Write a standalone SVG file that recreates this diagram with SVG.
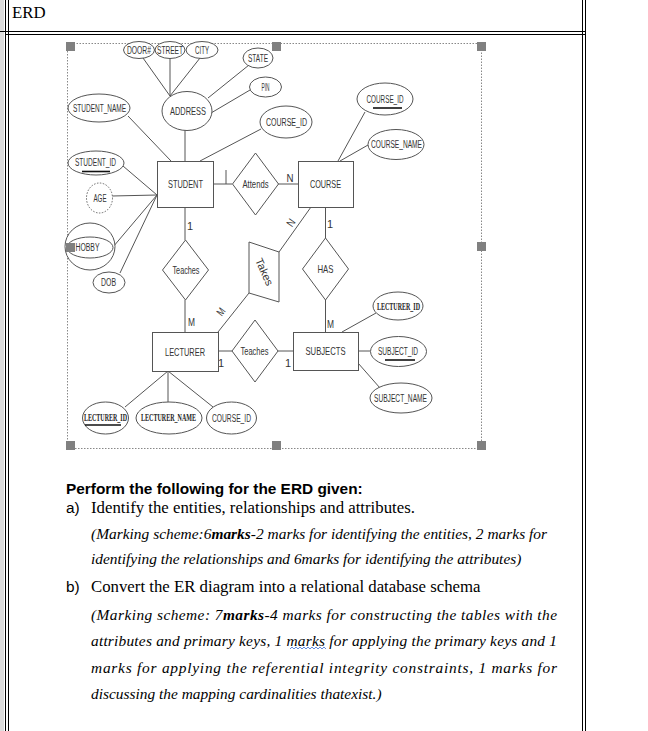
<svg xmlns="http://www.w3.org/2000/svg" width="648" height="731" viewBox="0 0 648 731">
<defs>
<style>
.bd{stroke:#000;stroke-width:1;fill:none}
.sh{fill:#fff;stroke:#555;stroke-width:1}
.ln{stroke:#555;stroke-width:1;fill:none}
.t{font-family:"Liberation Sans",Arial,sans-serif;font-size:10px;fill:#333;text-anchor:middle}
.e{font-family:"Liberation Sans",Arial,sans-serif;font-size:11px;fill:#333;text-anchor:middle}
.tb{font-family:"Liberation Serif","Times New Roman",serif;font-size:10px;font-weight:bold;fill:#222;text-anchor:middle}
.c{font-family:"Liberation Sans",Arial,sans-serif;font-size:11px;fill:#333;text-anchor:middle}
.ul{stroke:#111;stroke-width:1.6}
.hd{fill:#808080}
.doc{font-family:"Liberation Serif","Times New Roman",serif;fill:#000}
.it{font-family:"Liberation Serif","Times New Roman",serif;font-style:italic;font-size:15.4px;fill:#000}
.sans{font-family:"Liberation Sans",Arial,sans-serif;fill:#000}
</style>
</defs>
<rect width="648" height="731" fill="#fff"/>
<g id="table">
<rect x="0" y="0" width="4" height="731" fill="#dcdcdc"/>
<line class="bd" x1="5.5" y1="0" x2="5.5" y2="731"/>
<line class="bd" x1="8.5" y1="0" x2="8.5" y2="731"/>
<line class="bd" x1="582.5" y1="0" x2="582.5" y2="731"/>
<line class="bd" x1="585.5" y1="0" x2="585.5" y2="731"/>
<line class="bd" x1="0" y1="31.5" x2="586" y2="31.5"/>
<line class="bd" x1="5" y1="34.5" x2="586" y2="34.5"/>
<text class="doc" x="12" y="18" font-size="16.8">ERD</text>
</g>
<g id="frame">
<rect x="67.5" y="43.5" width="414" height="405" fill="none" stroke="#888" stroke-dasharray="1.5 1.5"/>
</g>
<g id="connectors">
<line class="ln" x1="143" y1="58" x2="170" y2="96"/>
<line class="ln" x1="170" y1="58.5" x2="170" y2="96"/>
<line class="ln" x1="200" y1="58" x2="170" y2="96"/>
<line class="ln" x1="249" y1="65" x2="208" y2="98"/>
<line class="ln" x1="250" y1="90" x2="211" y2="113"/>
<line class="ln" x1="185" y1="130" x2="185" y2="161"/>
<line class="ln" x1="128" y1="116" x2="171" y2="161"/>
<line class="ln" x1="261" y1="129" x2="200" y2="161"/>
<line class="ln" x1="123" y1="166" x2="157" y2="195"/>
<line class="ln" x1="112" y1="196" x2="157" y2="195"/>
<line class="ln" x1="113" y1="247" x2="157" y2="195"/>
<line class="ln" x1="120" y1="273" x2="157" y2="195"/>
<line class="ln" x1="213" y1="184" x2="232" y2="184"/>
<line class="ln" x1="226" y1="170" x2="226" y2="184"/>
<line class="ln" x1="278" y1="184" x2="298" y2="184"/>
<line class="ln" x1="365" y1="112" x2="338" y2="161"/>
<line class="ln" x1="368" y1="145" x2="340" y2="161"/>
<line class="ln" x1="185" y1="207" x2="185" y2="240"/>
<line class="ln" x1="185" y1="300" x2="185" y2="332"/>
<line class="ln" x1="311" y1="207" x2="279" y2="252"/>
<line class="ln" x1="249" y1="293" x2="218" y2="332"/>
<line class="ln" x1="325.5" y1="207" x2="325.5" y2="238"/>
<line class="ln" x1="325.5" y1="300" x2="325.5" y2="332"/>
<line class="ln" x1="218" y1="351" x2="232" y2="351"/>
<line class="ln" x1="278" y1="351" x2="293" y2="351"/>
<line class="ln" x1="376" y1="313" x2="342" y2="332"/>
<line class="ln" x1="358" y1="351" x2="370" y2="351"/>
<line class="ln" x1="380" y1="388" x2="358" y2="363"/>
<line class="ln" x1="168" y1="371" x2="125" y2="407"/>
<line class="ln" x1="168" y1="371" x2="168" y2="402"/>
<line class="ln" x1="168" y1="371" x2="213" y2="407"/>
<text class="c" x="290" y="182" textLength="7" lengthAdjust="spacingAndGlyphs">N</text>
<text class="c" x="190" y="230">1</text>
<text class="c" x="191.5" y="326" textLength="7" lengthAdjust="spacingAndGlyphs">M</text>
<text class="c" x="330" y="228">1</text>
<text class="c" x="330.5" y="328" textLength="7" lengthAdjust="spacingAndGlyphs">M</text>
<text class="c" x="221" y="367">1</text>
<text class="c" x="288" y="367">1</text>
<text class="c" transform="translate(294,225) rotate(-55)" textLength="7" lengthAdjust="spacingAndGlyphs">N</text>
<text class="c" transform="translate(224,314) rotate(-52)" textLength="7" lengthAdjust="spacingAndGlyphs">M</text>
</g>
<g id="door"><ellipse class="sh" cx="139" cy="50" rx="15.5" ry="8.5"/><text class="t" x="139" y="53.6" textLength="24" lengthAdjust="spacingAndGlyphs">DOOR#</text></g>
<g id="street"><ellipse class="sh" cx="170" cy="50" rx="15" ry="8.5"/><text class="t" x="170" y="53.6" textLength="26" lengthAdjust="spacingAndGlyphs">STREET</text></g>
<g id="city"><ellipse class="sh" cx="202" cy="50" rx="16" ry="8.5"/><text class="t" x="202" y="53.6" textLength="14" lengthAdjust="spacingAndGlyphs">CITY</text></g>
<g id="state"><ellipse class="sh" cx="258" cy="58" rx="15" ry="10"/><text class="t" x="258" y="61.6" textLength="20" lengthAdjust="spacingAndGlyphs">STATE</text></g>
<g id="pin"><ellipse class="sh" cx="265.5" cy="87" rx="16" ry="10"/><text class="t" x="265.5" y="90.6" textLength="8" lengthAdjust="spacingAndGlyphs">PIN</text></g>
<g id="address"><ellipse class="sh" cx="187" cy="111" rx="25" ry="19.5"/><text class="e" x="188" y="115" textLength="36" lengthAdjust="spacingAndGlyphs">ADDRESS</text></g>
<g id="student_name"><ellipse class="sh" cx="99" cy="108" rx="31" ry="14"/><text class="t" x="99.5" y="111.6" textLength="53" lengthAdjust="spacingAndGlyphs">STUDENT_NAME</text></g>
<g id="course_id_1"><ellipse class="sh" cx="286" cy="122" rx="26" ry="16"/><text class="t" x="286.5" y="125.6" textLength="41" lengthAdjust="spacingAndGlyphs">COURSE_ID</text></g>
<g id="course_id_key"><ellipse class="sh" cx="385" cy="99" rx="28" ry="16"/><text class="t" x="385" y="102.6" textLength="37" lengthAdjust="spacingAndGlyphs">COURSE_ID</text><line class="ul" x1="373" y1="108" x2="402" y2="108"/></g>
<g id="course_name"><ellipse class="sh" cx="396" cy="144.5" rx="28" ry="15"/><text class="t" x="396.5" y="148.1" textLength="51" lengthAdjust="spacingAndGlyphs">COURSE_NAME</text></g>
<g id="student_id"><ellipse class="sh" cx="96" cy="163" rx="28" ry="12"/><text class="t" x="95.5" y="166" textLength="41" lengthAdjust="spacingAndGlyphs">STUDENT_ID</text><line class="ul" x1="82" y1="171.5" x2="110" y2="171.5"/></g>
<g id="age"><ellipse cx="99.5" cy="198" rx="13" ry="15" fill="#fff" stroke="#666" stroke-dasharray="1.5 1.5"/><text class="t" x="100" y="201.6" textLength="13" lengthAdjust="spacingAndGlyphs">AGE</text></g>
<g id="hobby"><ellipse class="sh" cx="90" cy="246.5" rx="25" ry="23.5"/><ellipse class="sh" cx="90" cy="247.5" rx="23" ry="10.5"/><text class="t" x="87.5" y="251.1" textLength="24" lengthAdjust="spacingAndGlyphs">HOBBY</text></g>
<g id="dob"><ellipse class="sh" cx="109" cy="282.5" rx="16" ry="10.5"/><text class="t" x="108.5" y="286.1" textLength="15" lengthAdjust="spacingAndGlyphs">DOB</text></g>
<g id="lecturer_id_r"><ellipse class="sh" cx="398" cy="306" rx="25" ry="14"/><text class="tb" x="398.5" y="309.5" textLength="43" lengthAdjust="spacingAndGlyphs">LECTURER_ID</text></g>
<g id="subject_id"><ellipse class="sh" cx="398.5" cy="351.5" rx="28" ry="15"/><text class="t" x="398" y="355.1" textLength="40" lengthAdjust="spacingAndGlyphs">SUBJECT_ID</text><line class="ul" x1="385" y1="360" x2="415" y2="360"/></g>
<g id="subject_name"><ellipse class="sh" cx="401" cy="398" rx="31" ry="15"/><text class="t" x="400.5" y="401.6" textLength="53" lengthAdjust="spacingAndGlyphs">SUBJECT_NAME</text></g>
<g id="lecturer_id_b"><ellipse class="sh" cx="105.5" cy="418" rx="23" ry="16"/><text class="tb" x="105.5" y="421" textLength="43" lengthAdjust="spacingAndGlyphs">LECTURER_ID</text><line class="ul" x1="85" y1="425" x2="121" y2="425"/></g>
<g id="lecturer_name"><ellipse class="sh" cx="169" cy="418" rx="33" ry="16"/><text class="tb" x="168.5" y="421" textLength="55" lengthAdjust="spacingAndGlyphs">LECTURER_NAME</text></g>
<g id="course_id_b"><ellipse class="sh" cx="231.5" cy="418" rx="25" ry="16"/><text class="t" x="231.5" y="421.6" textLength="39" lengthAdjust="spacingAndGlyphs">COURSE_ID</text></g>
<g id="student"><rect class="sh" x="157.5" y="161.5" width="56" height="46"/><text class="e" x="185.5" y="188" textLength="35" lengthAdjust="spacingAndGlyphs">STUDENT</text></g>
<g id="course"><rect class="sh" x="298.5" y="161.5" width="55" height="46"/><text class="e" x="325.5" y="188" textLength="31" lengthAdjust="spacingAndGlyphs">COURSE</text></g>
<g id="lecturer"><rect class="sh" x="152.5" y="332.5" width="66" height="39"/><text class="e" x="185" y="355.5" textLength="40" lengthAdjust="spacingAndGlyphs">LECTURER</text></g>
<g id="subjects"><rect class="sh" x="293.5" y="332.5" width="65" height="38"/><text class="e" x="325.5" y="355" textLength="40" lengthAdjust="spacingAndGlyphs">SUBJECTS</text></g>
<g id="attends"><polygon class="sh" points="255.5,153 278.5,184 255.5,215 232.5,184"/><text class="e" x="255.5" y="188" textLength="26" lengthAdjust="spacingAndGlyphs">Attends</text></g>
<g id="teaches_1"><polygon class="sh" points="185.5,240 208.5,270 185.5,300 162.5,270"/><text class="e" x="186" y="274" textLength="27" lengthAdjust="spacingAndGlyphs">Teaches</text></g>
<g id="has"><polygon class="sh" points="325.5,238 348.5,269 325.5,300 302.5,269"/><text class="e" x="325.5" y="273" textLength="16" lengthAdjust="spacingAndGlyphs">HAS</text></g>
<g id="teaches_2"><polygon class="sh" points="255,320 278,351 255,382 232,351"/><text class="e" x="254.5" y="355" textLength="28" lengthAdjust="spacingAndGlyphs">Teaches</text></g>
<g id="takes"><polygon class="sh" points="249,242 279,252 279,302 249,293"/><text class="e" transform="translate(264,272) rotate(66)" y="3.5" textLength="29" lengthAdjust="spacingAndGlyphs">Takes</text></g>
<g id="handles">
<rect class="hd" x="66" y="42" width="9" height="9"/>
<rect class="hd" x="272" y="42" width="9" height="9"/>
<rect class="hd" x="477" y="42" width="9" height="9"/>
<rect class="hd" x="66" y="243" width="9" height="9"/>
<rect class="hd" x="477" y="242" width="9" height="9"/>
<rect class="hd" x="66" y="441" width="9" height="9"/>
<rect class="hd" x="272" y="441" width="9" height="9"/>
<rect class="hd" x="477" y="441" width="9" height="9"/>
</g>
<g id="questions">
<text class="sans" x="66" y="494" font-size="15.4" font-weight="bold">Perform the following for the ERD given:</text>
<text class="sans" x="66" y="513" font-size="15.4">a)</text>
<text class="doc" x="91" y="513" font-size="16.8">Identify the entities, relationships and attributes.</text>
<text class="it" x="91" y="539" textLength="456" lengthAdjust="spacing">(Marking scheme:6<tspan font-weight="bold">marks</tspan>-2 marks for identifying the entities, 2 marks for</text>
<text class="it" x="91" y="564">identifying the relationships and 6marks for identifying the attributes)</text>
<text class="sans" x="66" y="592" font-size="15.4">b)</text>
<text class="doc" x="91" y="592" font-size="16.8">Convert the ER diagram into a relational database schema</text>
<text class="it" x="91" y="620" textLength="466" lengthAdjust="spacing">(Marking scheme: 7<tspan font-weight="bold">marks</tspan>-4 marks for constructing the tables with the</text>
<text class="it" x="91" y="646" textLength="466" lengthAdjust="spacing">attributes and primary keys, 1 marks for applying the primary keys and 1</text>
<text class="it" x="91" y="673" textLength="466" lengthAdjust="spacing">marks for applying the referential integrity constraints, 1 marks for</text>
<text class="it" x="91" y="699">discussing the mapping cardinalities thatexist.)</text>
<path d="M290,649 l2,-2 l2,2 l2,-2 l2,2 l2,-2 l2,2 l2,-2 l2,2 l2,-2 l2,2 l2,-2 l2,2 l2,-2 l2,2 l2,-2 l2,2 l2,-2 l2,2" fill="none" stroke="#3b6fd6" stroke-width="0.8"/>
</g>
</svg>
